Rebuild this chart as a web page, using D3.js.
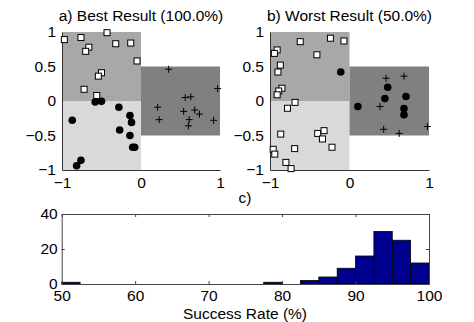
<!DOCTYPE html>
<html>
<head>
<meta charset="UTF-8">
<script src="https://d3js.org/d3.v7.min.js"></script>
<style>
  body { margin: 0; background: #fff; }
  text { font-family: "Liberation Sans", Arial, sans-serif; }
</style>
</head>
<body>
<div id="chart"></div>
<script>
// ---- data ----
// shaded decision regions [x0, x1, y0, y1]
var regionsTopLeft = [-1, 0, 0, 1],
    regionsBottomLeft = [-1, 0, -1, 0],
    regionsRight = [0, 1, -0.5, 0.5];

// a) best result
var aSquares = [[-0.97, 0.89], [-0.76, 0.92], [-0.43, 0.99], [-0.32, 0.83], [-0.13, 0.84],
  [-0.66, 0.78], [-0.70, 0.72], [-0.05, 0.58], [-0.50, 0.41], [-0.54, 0.36],
  [-0.72, 0.17], [-0.56, 0.08]];
var aCircles = [[-0.58, -0.015], [-0.50, -0.005], [-0.28, -0.09], [-0.87, -0.28], [-0.14, -0.21],
  [-0.12, -0.31], [-0.27, -0.42], [-0.14, -0.50], [-0.105, -0.67], [-0.08, -0.67],
  [-0.76, -0.86], [-0.815, -0.94]];
var aCrosses = [[0.35, 0.46], [0.97, 0.18], [0.56, 0.05], [0.63, 0.06], [0.21, -0.09],
  [0.68, -0.13], [0.54, -0.15], [0.74, -0.19], [0.23, -0.27], [0.61, -0.27],
  [0.92, -0.28], [0.60, -0.36]];

// b) worst result
var bSquares = [[-0.62, 0.86], [-0.24, 0.91], [-0.07, 0.87], [-0.91, 0.74], [-0.945, 0.69],
  [-0.41, 0.67], [-0.87, 0.52], [-0.90, 0.42], [-0.85, 0.185], [-0.89, 0.145],
  [-0.91, 0.09], [-0.685, -0.02], [-0.78, -0.105], [-0.865, -0.48], [-0.40, -0.47],
  [-0.32, -0.43], [-0.34, -0.55], [-0.96, -0.70], [-0.94, -0.77], [-0.69, -0.69],
  [-0.22, -0.67], [-0.80, -0.89], [-0.735, -0.98]];
var bCircles = [[-0.11, 0.42], [0.48, 0.20], [0.445, 0.035], [0.71, 0.065], [0.105, -0.08],
  [0.685, -0.11], [0.685, -0.20]];
var bCrosses = [[0.46, 0.33], [0.685, 0.36], [0.385, -0.08], [0.43, -0.41], [0.625, -0.47],
  [0.98, -0.37]];

// c) histogram of success rate
var binStarts = [50, 77.5, 82.5, 85, 87.5, 90, 92.5, 95, 97.5];
var binCounts = [1, 1, 2, 4, 9, 16, 30, 25, 12];
var binWidth = 2.5;

var scatterXTicks = [-1, 0, 1],
    scatterYTicks = [-1, -0.5, 0, 0.5, 1],
    histXTicks = [50, 60, 70, 80, 90, 100],
    histYTicks = [0, 20, 40];

// ---- drawing ----
var W = 474, H = 322, FS = "15.5px";
var svg = d3.select("#chart").append("svg").attr("width", W).attr("height", H);

function scatterPanel(x0, x1, title, squares, circles, crosses) {
  var x = d3.scaleLinear().domain([-1, 1]).range([x0, x1]);
  var y = d3.scaleLinear().domain([-1, 1]).range([170, 32]);
  var g = svg.append("g");

  var regs = [[regionsTopLeft, "#a8a8a8"], [regionsBottomLeft, "#d9d9d9"], [regionsRight, "#808080"]];
  g.selectAll("rect.reg").data(regs).enter().append("rect")
    .attr("x", d => x(d[0][0]))
    .attr("width", d => x(d[0][1]) - x(d[0][0]))
    .attr("y", d => y(d[0][3]))
    .attr("height", d => y(d[0][2]) - y(d[0][3]))
    .attr("fill", d => d[1]);

  var ya = g.append("g").attr("transform", "translate(" + x0 + ",0)")
    .call(d3.axisLeft(y).tickValues(scatterYTicks).tickFormat(d3.format("")).tickSize(0).tickPadding(6));
  var xa = g.append("g").attr("transform", "translate(0,170)")
    .call(d3.axisBottom(x).tickValues(scatterXTicks).tickFormat(d3.format("")).tickSize(0).tickPadding(7));
  [ya, xa].forEach(a => {
    a.select(".domain").attr("stroke", "#333");
    a.selectAll("text").attr("fill", "#000").style("font-size", FS).style("font-family", "Liberation Sans, Arial, sans-serif");
  });

  g.append("text").attr("x", (x0 + x1) / 2).attr("y", 21).attr("text-anchor", "middle")
    .style("font-size", FS).text(title);

  g.selectAll("rect.sq").data(squares).enter().append("rect")
    .attr("x", d => x(d[0]) - 3).attr("y", d => y(d[1]) - 3)
    .attr("width", 6).attr("height", 6)
    .attr("fill", "#fff").attr("stroke", "#000").attr("stroke-width", 1);

  g.selectAll("circle").data(circles).enter().append("circle")
    .attr("cx", d => x(d[0])).attr("cy", d => y(d[1])).attr("r", 3.8)
    .attr("fill", "#000");

  g.selectAll("path.cr").data(crosses).enter().append("path")
    .attr("d", d => {
      var cx = x(d[0]), cy = y(d[1]);
      return "M" + (cx - 3.5) + "," + cy + "H" + (cx + 3.5) + "M" + cx + "," + (cy - 3.5) + "V" + (cy + 3.5);
    })
    .attr("stroke", "#000").attr("stroke-width", 1).attr("fill", "none");
}

scatterPanel(62, 220, "a) Best Result (100.0%)", aSquares, aCircles, aCrosses);
scatterPanel(270, 429, "b) Worst Result (50.0%)", bSquares, bCircles, bCrosses);

// histogram
var hx = d3.scaleLinear().domain([50, 100]).range([61.7, 429]);
var hy = d3.scaleLinear().domain([0, 40]).range([284, 214]);
var hg = svg.append("g");

hg.selectAll("rect.bar").data(binStarts).enter().append("rect")
  .attr("x", d => hx(d))
  .attr("width", d => hx(d + binWidth) - hx(d))
  .attr("y", (d, i) => hy(binCounts[i]))
  .attr("height", (d, i) => hy(0) - hy(binCounts[i]))
  .attr("fill", "#00008f").attr("stroke", "#000").attr("stroke-width", 0.8);

function styleAxis(a) {
  a.select(".domain").attr("stroke", "#444");
  a.selectAll("line").attr("stroke", "#444");
  a.selectAll("text").attr("fill", "#000").style("font-size", FS).style("font-family", "Liberation Sans, Arial, sans-serif");
}
styleAxis(hg.append("g").attr("transform", "translate(0,284)")
  .call(d3.axisBottom(hx).tickValues(histXTicks).tickFormat(d3.format("")).tickSize(-3).tickSizeOuter(0).tickPadding(6)));
styleAxis(hg.append("g").attr("transform", "translate(0,214)")
  .call(d3.axisTop(hx).tickValues(histXTicks).tickFormat("").tickSize(-3).tickSizeOuter(0)));
styleAxis(hg.append("g").attr("transform", "translate(61.7,0)")
  .call(d3.axisLeft(hy).tickValues(histYTicks).tickFormat(d3.format("")).tickSize(-3).tickSizeOuter(0).tickPadding(4)));
styleAxis(hg.append("g").attr("transform", "translate(429,0)")
  .call(d3.axisRight(hy).tickValues(histYTicks).tickFormat("").tickSize(-3).tickSizeOuter(0)));

hg.append("text").attr("x", 245).attr("y", 203).attr("text-anchor", "middle")
  .style("font-size", FS).text("c)");
hg.append("text").attr("x", 245).attr("y", 319).attr("text-anchor", "middle")
  .style("font-size", FS).text("Success Rate (%)");
</script>
</body>
</html>
